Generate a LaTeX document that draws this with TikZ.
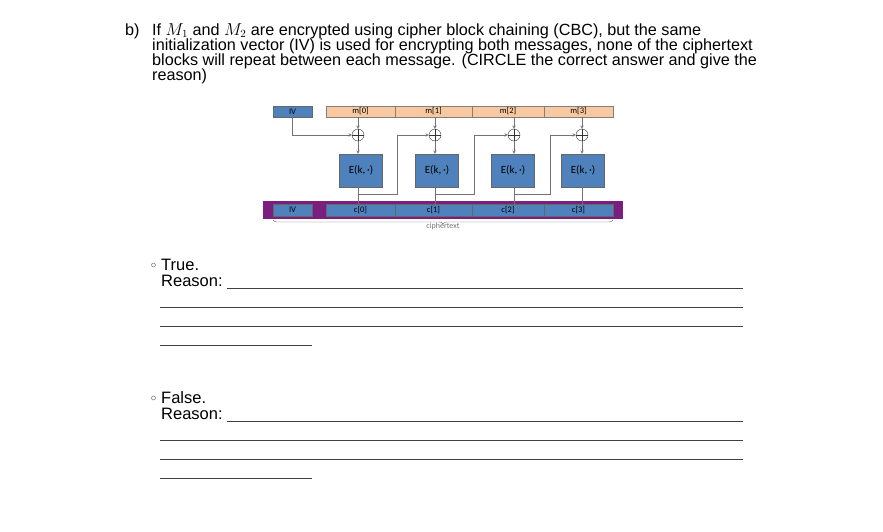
\documentclass[tikz,border=0pt]{standalone}
\usepackage{fontspec}
\setmainfont{Liberation Sans}
\newfontfamily\calfnt{Carlito}
\usetikzlibrary{decorations.pathreplacing}
\begin{document}
\begin{tikzpicture}[x=1pt,y=-1pt,
  txt/.style={anchor=base west,inner sep=0,font=\fontsize{16.2}{15}\selectfont},
  blue/.style={draw=black!60,fill=bx,inner sep=0,font=\calfnt\fontsize{8.5}{9}\selectfont},
  org/.style={draw=black!50,fill=or,inner sep=0,font=\calfnt\fontsize{8.5}{9}\selectfont},
  ebox/.style={draw=black!60,fill=bx,inner sep=0,minimum width=43,minimum height=33,font=\calfnt\fontsize{11}{12}\selectfont},
  xr/.style={circle,draw=black!80,fill=white,minimum size=12,inner sep=0},
  wire/.style={draw=black!55,line width=0.5},
  ans/.style={draw=black!75,line width=0.8}]
\definecolor{bx}{HTML}{4F81BD}\definecolor{or}{HTML}{F8C9A0}\definecolor{pu}{HTML}{7B1F7F}
\useasboundingbox (0,0) rectangle (883,531);
\node[txt] (b) at (125,35) {b)};
\node[txt] (l1) at (152,35) {If $M_1$ and $M_2$ are encrypted using cipher block chaining (CBC), but the same};
\node[txt] (l2) at (152,50) {initialization vector (IV) is used for encrypting both messages, none of the ciphertext};
\node[txt] (l3) at (152,65) {blocks will repeat between each message. (CIRCLE the correct answer and give the};
\node[txt] (l4) at (152,80) {reason)};
% diagram
\node[draw=none,fill=pu,minimum width=360,minimum height=18,inner sep=0] (bar) at (443,210) {};
\node[blue,minimum width=39,minimum height=11] (ivt) at (292.5,111.5) {IV};
\node[blue,minimum width=39,minimum height=12] (ivb) at (292.5,210) {IV};
\foreach \i/\a/\b in {0/326/395,1/395/472,2/472/544,3/544/613}{
  \node[org,minimum width=\b-\a,minimum height=11] (m\i) at ({(\a+\b)/2},111.5) {m[\i]};
  \node[blue,minimum width=\b-\a,minimum height=12] (c\i) at ({(\a+\b)/2},210) {c[\i]};
}
\foreach \i/\x/\ex in {0/358/361,1/435/437,2/514/513,3/582/583}{
  \node[xr] (x\i) at (\x,135) {};
  \draw[black!80] (x\i.north)--(x\i.south) (x\i.west)--(x\i.east);
  \node[ebox] (e\i) at (\ex,170.5) {E(k,\,·)};
}
\draw[wire,->,>=stealth] (ivt.south) |- (x0.west);
\foreach \i in {0,1,2,3}{
  \draw[wire,->,>=stealth] (m\i.south -| x\i) -- (x\i.north);
  \draw[wire,->,>=stealth] (x\i.south) -- (x\i.south |- e\i.north);
  \draw[wire] (x\i |- e\i.south) -- (x\i |- c\i.north);
}
\foreach \i/\j/\fx in {0/1/397,1/2/474,2/3/550}{
  \coordinate (p\i) at (\fx,194);
  \draw[wire,->,>=stealth] (x\i |- p\i) -- (p\i) |- (x\j.west);
}
\draw[black!55,decorate,decoration={brace,amplitude=4}] (613,220) -- (273,220) node[midway,below=3pt,inner sep=0,font=\calfnt\fontsize{8}{9}\selectfont] (ct) {ciphertext};
% answers
\foreach \y/\w in {270/True.,403/False.}{
  \node[circle,draw=black!50,inner sep=0,minimum size=4,line width=0.6] at (153.5,\y-5) {};
  \node[txt,font=\fontsize{16.5}{15}\selectfont] at (161,\y) {\w};
  \node[txt,font=\fontsize{16.5}{15}\selectfont] at (161,\y+16) {Reason:};
}
\foreach \y in {288,421}{
  \draw[ans] (227,\y) -- (743,\y);
  \draw[ans] (160,\y+19) -- (743,\y+19);
  \draw[ans] (160,\y+38) -- (743,\y+38);
  \draw[ans] (160,\y+57) -- (312,\y+57);
}
\end{tikzpicture}
\end{document}
